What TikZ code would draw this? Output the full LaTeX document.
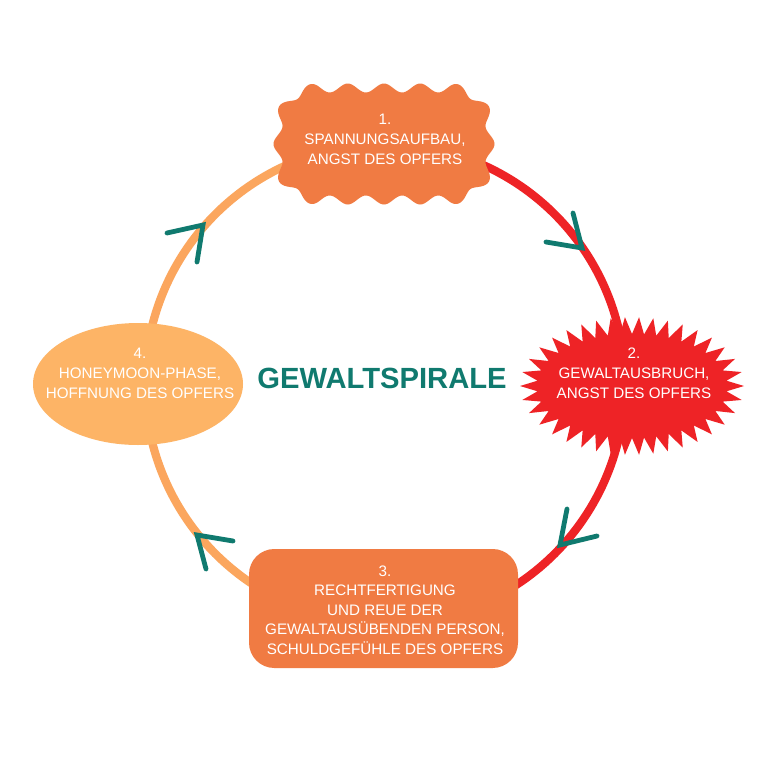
\documentclass[tikz,border=0pt]{standalone}
\usepackage{fontspec}
\setmainfont{Liberation Sans}
\usetikzlibrary{shapes.geometric}
\definecolor{cteal}{HTML}{107A6F}
\definecolor{corange}{HTML}{F07B43}
\definecolor{cred}{HTML}{EE2326}
\definecolor{clight}{HTML}{FDB466}
\definecolor{carc}{HTML}{FBA65E}
\begin{document}
\begin{tikzpicture}[x=0.75pt,y=-0.75pt,
  declare function={wv(\s)=4.5*cos(9.94269*(\s-66));},
  lbl/.style={text=white, align=center, font=\fontsize{11.4}{15}\selectfont, inner sep=0pt},
  ring/.style={line width=6.2pt},
  chev/.style={draw=cteal, line width=3.6pt, line cap=round, line join=miter}]
\useasboundingbox (0,0) rectangle (768,768);
\fill[white] (0,0) rectangle (768,768);
% ring
\draw[ring, carc] plot[domain=90:270, samples=91, smooth] ({385+240*cos(\x)},{384+240*sin(\x)});
\draw[ring, cred] plot[domain=-90:90, samples=91, smooth] ({385+240*cos(\x)},{384+240*sin(\x)});
% 1: wavy shape
\fill[corange] plot[domain=0:132, samples=67] ({318+\x},{88-wv(\x)})
 -- plot[domain=-90:0, samples=32] ({450+(40+wv(132+0.69813*(\x+90)))*cos(\x)},{128+(40+wv(132+0.69813*(\x+90)))*sin(\x)})
 -- plot[domain=0:32, samples=17] ({490+wv(194.83+\x)},{128+\x})
 -- plot[domain=0:90, samples=32] ({450+(40+wv(226.83+0.69813*\x))*cos(\x)},{160+(40+wv(226.83+0.69813*\x))*sin(\x)})
 -- plot[domain=0:132, samples=67] ({450-\x},{200+wv(289.66+\x)})
 -- plot[domain=90:180, samples=32] ({318+(40+wv(421.66+0.69813*(\x-90)))*cos(\x)},{160+(40+wv(421.66+0.69813*(\x-90)))*sin(\x)})
 -- plot[domain=0:32, samples=17] ({278-wv(484.49+\x)},{160-\x})
 -- plot[domain=180:270, samples=32] ({318+(40+wv(516.49+0.69813*(\x-180)))*cos(\x)},{128+(40+wv(516.49+0.69813*(\x-180)))*sin(\x)})
 -- cycle;
\node[lbl] (t1) at (385,139) {1.\\SPANNUNGSAUFBAU,\\ANGST DES OPFERS};
% 2: star
\fill[cred] plot[samples at={0,1,...,75}, variable=\k] ({632+(112-17*mod(\k,2))*cos(\k*4.736842+6.8*sin(\k*9.473684))}, {386+(69-17*mod(\k,2))*sin(\k*4.736842+6.8*sin(\k*9.473684))}) -- cycle;
\node[lbl] (t2) at (634,373) {2.\\GEWALTAUSBRUCH,\\ANGST DES OPFERS};
% 3: rounded box
\node[fill=corange, rounded corners=19pt, minimum width=201.75pt, minimum height=89.25pt, inner sep=0pt] (n3) at (383.5,608.5) {};
\node[lbl, font=\fontsize{11.4}{14.6}\selectfont] (t3) at (385,610) {3.\\RECHTFERTIGUNG\\UND REUE DER\\GEWALTAUSÜBENDEN PERSON,\\SCHULDGEFÜHLE DES OPFERS};
% 4: ellipse
\node[ellipse, fill=clight, minimum width=157.5pt, minimum height=91.5pt, inner sep=0pt] (n4) at (138,384) {};
\node[lbl] (t4) at (140,373) {4.\\HONEYMOON-PHASE,\\HOFFNUNG DES OPFERS};
% title
\node[text=cteal, font=\fontsize{21.9}{26}\selectfont\bfseries, inner sep=0pt] (title) at (382,378.5) {GEWALTSPIRALE};
% chevrons
\draw[chev] (573,213) -- (582,248) -- (546,242);
\draw[chev] (567,509) -- (560,545) -- (597,536);
\draw[chev] (233,541) -- (197,535) -- (206,569);
\draw[chev] (167,233) -- (203,225) -- (197,262);
\end{tikzpicture}
\end{document}
